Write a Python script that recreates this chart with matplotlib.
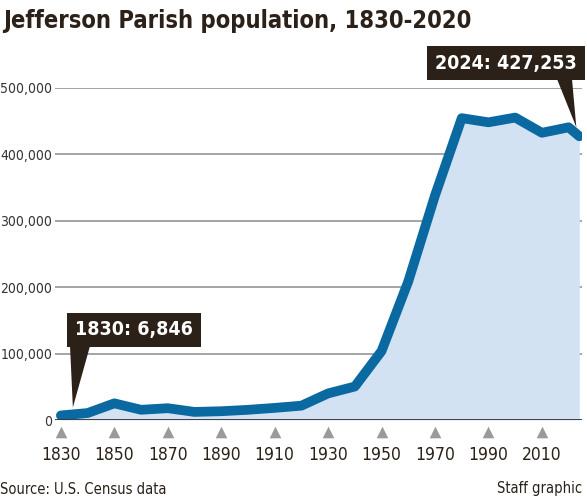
import matplotlib
matplotlib.use("Agg")
import matplotlib.pyplot as plt
from matplotlib.patches import Polygon
from matplotlib.transforms import blended_transform_factory

# Census counts, plus the 2024 estimate
years = [1830, 1840, 1850, 1860, 1870, 1880, 1890, 1900, 1910, 1920, 1930,
         1940, 1950, 1960, 1970, 1980, 1990, 2000, 2010, 2020, 2024]
population = [6846, 10470, 25093, 15372, 17767, 12166, 13221, 15321, 18247,
              21563, 40032, 50427, 103873, 208769, 338229, 454592, 448306,
              455466, 432552, 440781, 427253]

tick_years = [1830, 1850, 1870, 1890, 1910, 1930, 1950, 1970, 1990, 2010]
y_ticks = [0, 100000, 200000, 300000, 400000, 500000]
y_labels = ["0", "100,000", "200,000", "300,000", "400,000", "500,000"]

title = "Jefferson Parish population, 1830-2020"
first_label = "1830: 6,846"
last_label = "2024: 427,253"

INK = "#2b2118"
LINE = "#0a69a0"
FILL = "#d2e2f3"

plt.rcParams["font.family"] = ["DejaVu Sans"]
plt.rcParams["font.stretch"] = "condensed"

W, H = 587, 500
fig = plt.figure(figsize=(W / 100, H / 100), dpi=100)


def fx(px):
    return px / W


def fy(py):
    return 1 - py / H


ax = fig.add_axes([fx(55), fy(420), fx(582) - fx(55), fy(88) - fy(420)])
ax.set_xlim(1827.8, 2025)
ax.set_ylim(0, 500000)

for v in y_ticks[1:]:
    ax.axhline(v, color="#8c8c8c", lw=1.1, zorder=1)
ax.axhline(0, color="#333333", lw=1.3, zorder=4)

ax.fill_between(years, population, 0, color=FILL, lw=0, zorder=2)
ax.plot(years, population, color=LINE, lw=7, solid_capstyle="round",
        solid_joinstyle="round", zorder=3)

for s in ax.spines.values():
    s.set_visible(False)

ax.set_yticks(y_ticks)
ax.set_yticklabels(y_labels, fontsize=10, color="#333333")
ax.set_xticks(tick_years)
ax.set_xticklabels([str(t) for t in tick_years], fontsize=12.5, color=INK)
ax.tick_params(axis="both", length=0)
ax.tick_params(axis="y", pad=2)
ax.tick_params(axis="x", pad=19)

# gray triangle tick markers under the baseline
trans = blended_transform_factory(ax.transData, ax.transAxes)
ax.scatter(tick_years, [-0.036] * len(tick_years), marker="^", s=70,
           color="#9a9a9a", transform=trans, clip_on=False, zorder=5,
           linewidths=0)

fig.text(fx(3), fy(21), title, fontsize=17, fontweight="bold", color=INK,
         ha="left", va="center")
fig.text(fx(0), fy(489), "Source: U.S. Census data", fontsize=10.5,
         color=INK, ha="left", va="center")
fig.text(fx(582), fy(489), "Staff graphic", fontsize=10.5, color=INK,
         ha="right", va="center")


def callout(label, cx, cy, base, tip):
    fig.text(fx(cx), fy(cy), label, fontsize=14, fontweight="bold",
             color="white", ha="center", va="center",
             bbox=dict(boxstyle="square,pad=0.4", fc=INK, ec="none"))
    pts = [(fx(base[0]), fy(base[2])), (fx(base[1]), fy(base[2])),
           (tip[0], tip[1])]
    fig.add_artist(Polygon(pts, closed=True, fc=INK, ec="none",
                           transform=fig.transFigure))


def tip_at(x, y, dx, dy):
    # point near a data mark, shifted by pixel offsets
    px, py = ax.transData.transform((x, y))
    return fig.transFigure.inverted().transform((px + dx, py + dy))


callout(first_label, 134, 330, (70, 90, 346), tip_at(years[0], population[0], 12, 8))
callout(last_label, 506, 63, (557, 572, 79), tip_at(years[-1], population[-1], -3, 9))

fig.savefig("out.png", dpi=100)
